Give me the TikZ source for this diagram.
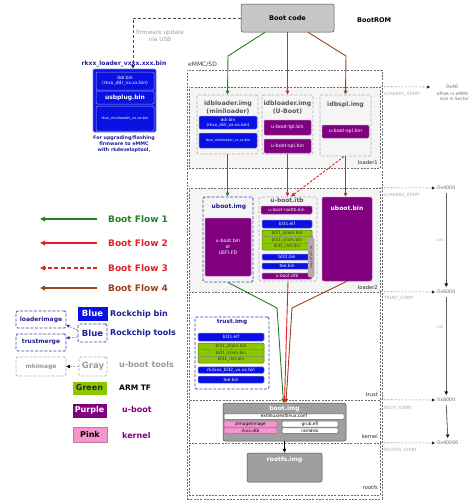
\documentclass[tikz,border=0pt]{standalone}
\usepackage{fontspec}
\setmainfont{DejaVu Sans}
\usetikzlibrary{arrows.meta}
\definecolor{fgreen}{RGB}{34,128,34}
\definecolor{fred}{RGB}{226,32,40}
\definecolor{fbrown}{RGB}{160,64,28}
\definecolor{rkblue}{RGB}{8,16,226}
\definecolor{navy}{RGB}{30,30,150}
\definecolor{upurple}{RGB}{128,0,128}
\definecolor{armgreen}{RGB}{140,200,0}
\definecolor{kpink}{RGB}{245,150,205}
\definecolor{regfill}{RGB}{245,245,245}
\definecolor{atfbox}{RGB}{190,165,175}
\newcommand\fsz[2]{\fontsize{#1}{#2}\selectfont}
\begin{document}
\begin{tikzpicture}[x=1pt,y=-1pt,
  wh/.style 2 args={minimum width=#1pt, minimum height=#2pt},
  box/.style={draw, rounded corners=1.2pt, inner sep=0pt, align=center, line width=0.5pt},
  bluebox/.style={box, fill=rkblue, draw=rkblue!55!white, text=white},
  purplebox/.style={box, fill=upurple, draw=upurple!60!white, text=white},
  greenbox/.style={box, fill=armgreen, draw=armgreen!60!black, text=black!80},
  pinkbox/.style={box, fill=kpink, draw=upurple!60, text=black},
  whitebox/.style={box, fill=white, draw=black!60, text=black},
  graybox/.style={box, fill=gray!75, draw=black!70, rounded corners=2pt},
  dashbox/.style={draw, dash pattern=on 3pt off 1.6pt, rounded corners=1.5pt, line width=0.9pt, inner sep=0pt, align=center},
  region/.style={draw=gray!85!black, dash pattern=on 2pt off 1.3pt, line width=0.6pt, inner sep=0pt},
  tiny/.style={font=\fsz{4.3}{5}},
  flow/.style={line width=0.9pt, -{Triangle[length=4pt,width=3.6pt]}},
  f1/.style={flow, draw=fgreen},
  f2/.style={flow, draw=fred},
  f3/.style={flow, draw=fred, dash pattern=on 2.5pt off 1.5pt},
  f4/.style={flow, draw=fbrown},
  addr/.style={draw=gray!75, dash pattern=on 2pt off 1.5pt, line width=0.6pt, -{Triangle[length=3pt,width=3pt,color=black!85]}},
  addrv/.style={draw=gray!75!black, line width=0.8pt, -{Triangle[length=3.5pt,width=3.5pt,color=black!90]}},
  addrt/.style={text=gray!85!black, font=\fsz{4.8}{5.5}, inner sep=0pt, anchor=west},
  addrl/.style={text=gray!70, font=\fsz{4.3}{5}, inner sep=0pt, anchor=west},
  legarrow/.style={line width=1.3pt, -{Triangle[length=5pt,width=4.6pt]}},
  legtxt/.style={font=\bfseries\fsz{9}{10}, inner sep=0pt, anchor=west},
  regl/.style={font=\fsz{5.2}{6}, text=black!85, inner sep=0pt, anchor=east}
]
\useasboundingbox (0,0) rectangle (474,504);

% ---------- Boot ROM ----------
\node[box, fill=gray!45, draw=gray!60!black, rounded corners=2pt, wh={93}{28}, font=\bfseries\fsz{6.5}{7.5}] (boot) at (287.5,18) {Boot code};
\node[font=\bfseries\fsz{6.5}{7.5}, inner sep=0pt, anchor=west] (bootrom) at (357,20) {BootROM};

% ---------- rkxx loader (USB) ----------
\node[font=\bfseries\fsz{6}{7}, text=navy, inner sep=0pt] (ldrt) at (124,64) {rkxx\_loader\_vxxx.xxx.bin};
\node[box, fill=rkblue, draw=rkblue!50!white, line width=0.8pt, wh={63}{63}] (ldr) at (124.5,100.5) {};
\node[bluebox, draw=white!60!rkblue, wh={58}{18}, font=\fsz{4.5}{5.4}] (lddr) at (125,81) {ddr.bin\\(rkxx\_ddr\_vx.xx.bin)};
\node[bluebox, draw=white!60!rkblue, wh={58}{13}, font=\bfseries\fsz{6}{7}] (lusb) at (125,97.5) {usbplug.bin};
\node[bluebox, draw=white!60!rkblue, wh={58}{25}, font=\fsz{3.6}{4.2}] (lmini) at (125,118.5) {rkxx\_miniloader\_vx.xx.bin};
\node[font=\bfseries\fsz{4.8}{6}, text=navy, align=center, inner sep=0pt] (ldrnote) at (124,144) {For upgrading/flashing\\firmware to eMMC\\with rkdeveloptool,};
\node[font=\fsz{5.8}{6.6}, text=gray!75, align=center, inner sep=0pt] (fwt) at (160,36) {firmware update\\via USB};
\coordinate (fwc) at (133,18);
\draw[draw=gray!60!black, dash pattern=on 3pt off 2pt, line width=1pt, -{Triangle[length=3.5pt,width=3.5pt,color=black!80]}] (boot.west) -- (fwc) -- (fwc |- ldr.north);

% ---------- eMMC regions ----------
\node[region, fill=white, wh={195}{429}] (emmc) at (284.5,284.5) {};
\node[font=\fsz{6}{7}, text=black!75, inner sep=0pt, anchor=west] (emmct) at (188,65) {eMMC/SD};
\node[region, fill=regfill, wh={191}{81}] (l1) at (284.5,127.5) {};
\node[region, fill=regfill, wh={191}{104}] (l2) at (284.5,240) {};
\node[region, fill=white, wh={191}{108}] (tr) at (284.5,346) {};
\node[region, fill=white, wh={191}{43}] (kn) at (284.5,421.5) {};
\node[region, fill=white, wh={191}{52}] (rf) at (284.5,469) {};
\node[regl] (l1t) at (378,163) {loader1};
\node[regl] (l2t) at (378,288) {loader2};
\node[regl] (trt) at (378,395) {trust};
\node[regl] (knt) at (378,437) {kernel};
\node[regl] (rft) at (378,488) {rootfs};

% ---------- right side offsets ----------
\node[addrt] (h40) at (446,87) {0x40};
\node[addrt] (h4000) at (437,188) {0x4000};
\node[addrt] (h6000) at (437,292) {0x6000};
\node[addrt] (h8000) at (437,400) {0x8000};
\node[addrt] (h40000) at (437,443) {0x40000};
\coordinate (e40) at (430,87);
\draw[addr] (l1.north east) -- (e40);
\draw[addr] (l2.north east) -- ([xshift=-2pt]h4000.west);
\draw[addr] (tr.north east) -- ([xshift=-2pt]h6000.west);
\draw[addr] (kn.north east) -- ([xshift=-2pt]h8000.west);
\draw[addr] (rf.north east) -- ([xshift=-2pt]h40000.west);
\node[addrl] (s1) at (384,94.5) {LOADER1\_START};
\node[addrl] (s2) at (384,195) {LOADER2\_START};
\node[addrl] (s3) at (384,298) {TRUST\_START};
\node[addrl] (s4) at (384,408) {BOOT\_START};
\node[addrl] (s5) at (384,450) {ROOTFS\_START};
\node[text=gray!85!black, font=\fsz{4.3}{5.2}, align=right, inner sep=0pt, anchor=north east] (offs) at (469,92) {offset in eMMC\\size in Sector};
\draw[addrv] ([yshift=-3pt]h4000.south) -- ([yshift=3pt]h6000.north);
\draw[addrv] ([yshift=-3pt]h6000.south) -- ([yshift=3pt]h8000.north);
\draw[addrv] ([yshift=-3pt]h8000.south) -- ([yshift=3pt]h40000.north);
\node[text=gray!60, font=\fsz{3.2}{4}, inner sep=0pt] (mb1) at (440,240) {4MB};
\node[text=gray!60, font=\fsz{3.2}{4}, inner sep=0pt] (mb2) at (440,327) {4MB};

% ---------- loader1 ----------
\node[dashbox, draw=gray!60, wh={61}{59}] (idb1) at (227.5,124.5) {};
\node[font=\bfseries\fsz{6.2}{8}, text=gray!70!black, align=center, inner sep=0pt] (idb1t) at (228,107.5) {idbloader.img\\(miniloader)};
\node[bluebox, wh={58}{13}, font=\fsz{4.2}{4.9}] (iddr) at (228,122.5) {ddr.bin\\(rkxx\_ddr\_vx.xx.bin)};
\node[bluebox, wh={58}{15}, font=\fsz{3.4}{4}] (imini) at (228,140.5) {rkxx\_miniloader\_vx.xx.bin};

\node[dashbox, draw=gray!60, wh={51}{59}] (idb2) at (287.5,124.5) {};
\node[font=\bfseries\fsz{6.2}{8}, text=gray!70!black, align=center, inner sep=0pt] (idb2t) at (287.5,107.5) {idbloader.img\\(U-Boot)};
\node[purplebox, wh={47}{15}, font=\fsz{4.8}{5.5}] (tpl) at (287.5,127.5) {u-boot-tpl.bin};
\node[purplebox, wh={47}{14}, font=\fsz{4.8}{5.5}] (spl) at (287.5,146) {u-boot-spl.bin};

\node[dashbox, draw=gray!60, wh={51}{61}] (idbspl) at (345.5,125.5) {};
\node[font=\bfseries\fsz{6.2}{8}, text=gray!70!black, inner sep=0pt] (idbsplt) at (345.5,105) {idbspl.img};
\node[purplebox, wh={47}{13}, font=\fsz{4.8}{5.5}] (spl2) at (345.5,131.5) {u-boot-spl.bin};

% ---------- loader2 ----------
\node[dashbox, draw=navy!85, wh={50}{85}] (uimg) at (228,239.5) {};
\node[font=\bfseries\fsz{6}{7}, text=navy, inner sep=0pt] (uimgt) at (229,207) {uboot.img};
\node[purplebox, wh={46}{58}, font=\fsz{4.8}{5.8}] (ubinor) at (228,247) {u-boot.bin\\or\\UEFI.FD};

\node[dashbox, draw=gray!60, wh={58}{84}] (itb) at (288,239) {};
\node[font=\bfseries\fsz{5.9}{7}, text=gray!70!black, inner sep=0pt, fill=regfill, inner xsep=1pt] (itbt) at (287,200.5) {u-boot.itb};
\node[purplebox, wh={51}{8}, font=\fsz{4.3}{5}] (nodtb) at (286.5,210) {u-boot-nodtb.bin};
\node[bluebox, wh={50}{8}, font=\fsz{4.3}{5}] (ibl31) at (287,224) {bl31.elf};
\node[greenbox, wh={50}{20}] (igr) at (287,240) {};
\draw[black!50, dash pattern=on 1.5pt off 1pt, line width=0.4pt] ([yshift=-6.67pt]igr.north west) -- ([yshift=-6.67pt]igr.north east);
\draw[black!50, dash pattern=on 1.5pt off 1pt, line width=0.4pt] ([yshift=6.67pt]igr.south west) -- ([yshift=6.67pt]igr.south east);
\node[tiny, text=black!80, inner sep=0pt] (igr1) at (287,233.5) {bl31\_dram.bin};
\node[tiny, text=black!80, inner sep=0pt] (igr2) at (287,240) {bl31\_sram.bin};
\node[tiny, text=black!80, inner sep=0pt] (igr3) at (287,246.5) {bl31\_m0.bin};
\node[bluebox, wh={50}{6}, font=\fsz{4.3}{5}] (ibl32) at (287,257) {bl32.bin};
\node[bluebox, wh={50}{6}, font=\fsz{4.3}{5}] (itee) at (287,266) {tee.bin};
\node[purplebox, wh={50}{6}, font=\fsz{4.3}{5}] (idtb) at (287,276) {u-boot.dtb};
\node[box, fill=atfbox, draw=gray!70, wh={6}{39}] (atf) at (311,257.5) {};
\node[rotate=-90, font=\fsz{3.4}{4}, text=black!75, inner sep=0pt] (atft) at (311,257.5) {bl\_spl\_atf.bin};

\node[purplebox, rounded corners=2pt, wh={50}{84}] (ubin) at (347,239) {};
\node[font=\bfseries\fsz{6}{7}, text=white, inner sep=0pt] (ubint) at (347,208) {uboot.bin};

% ---------- trust ----------
\node[dashbox, draw=navy!85, wh={74}{72}] (timg) at (232,353) {};
\node[font=\bfseries\fsz{5.8}{7}, text=navy, inner sep=0pt] (timgt) at (232,322) {trust.img};
\node[bluebox, wh={66}{8}, font=\fsz{4.3}{5}] (tbl31) at (231,337) {bl31.elf};
\node[greenbox, wh={66}{20}] (tgr) at (231,353) {};
\draw[black!50, dash pattern=on 1.5pt off 1pt, line width=0.4pt] ([yshift=-6.67pt]tgr.north west) -- ([yshift=-6.67pt]tgr.north east);
\draw[black!50, dash pattern=on 1.5pt off 1pt, line width=0.4pt] ([yshift=6.67pt]tgr.south west) -- ([yshift=6.67pt]tgr.south east);
\node[tiny, text=black!80, inner sep=0pt] (tgr1) at (231,346.5) {bl31\_dram.bin};
\node[tiny, text=black!80, inner sep=0pt] (tgr2) at (231,353) {bl31\_sram.bin};
\node[tiny, text=black!80, inner sep=0pt] (tgr3) at (231,359.5) {bl31\_m0.bin};
\node[bluebox, wh={66}{6.5}, font=\fsz{4.3}{5}] (tbl32) at (231,370) {rk3xxx\_bl32\_vx.xx.bin};
\node[bluebox, wh={66}{7}, font=\fsz{4.3}{5}] (ttee) at (231,379.5) {tee.bin};

% ---------- kernel ----------
\node[graybox, wh={123}{38}] (bimg) at (284.5,422) {};
\node[font=\bfseries\fsz{6}{7}, text=white, inner sep=0pt] (bimgt) at (284.5,409) {boot.img};
\node[whitebox, rounded corners=1pt, wh={120}{5.5}, font=\fsz{4.3}{5}] (ext) at (284,416.5) {extlinux/extlinux.conf};
\node[pinkbox, rounded corners=1pt, wh={53}{6}, font=\fsz{4.3}{5}] (zimg) at (250.5,424) {zImage/Image};
\node[pinkbox, rounded corners=1pt, wh={53}{5.5}, font=\fsz{4.3}{5}] (dtb) at (250.5,430.5) {rkxx.dtb};
\node[whitebox, rounded corners=1pt, wh={56}{6}, font=\fsz{4.3}{5}] (grub) at (310,424) {grub.efi};
\node[whitebox, rounded corners=1pt, wh={56}{5.5}, font=\fsz{4.3}{5}] (rdisk) at (310,430.5) {ramdisk};

\node[graybox, wh={75}{29}] (rimg) at (284.5,467.5) {};
\node[font=\bfseries\fsz{6}{7}, text=white, inner sep=0pt] (rimgt) at (284.5,460) {rootfs.img};
\draw[line width=0.9pt, -{Triangle[length=4pt,width=3.6pt]}] (bimg.south) -- (rimg.north);

% ---------- boot flows ----------
\coordinate (g1) at (228,56);
\coordinate (b1) at (346,56);
\draw[f1] ([xshift=-22.5pt]boot.south) -- (g1) -- (idb1.north);
\draw[f2] (boot.south) -- (idb2.north);
\draw[f4] ([xshift=20.5pt]boot.south) -- (b1) -- (idbspl.north);

\draw[f1] (idb1.south) -- (idb1.south |- uimg.north);
\draw[f2] (idb2.south) -- (idb2.south |- itb.north);
\draw[f3] ([xshift=-1.5pt]idbspl.south) -- ([xshift=3pt]itb.north);
\draw[f4] (idbspl.south) -- (idbspl.south |- ubin.north);

\coordinate (g2) at (277,308);
\coordinate (b2) at (292,308);
\draw[f1] (uimg.south) -- (g2) -- ([xshift=-1pt]bimg.north);
\draw[f4] (ubin.south) -- (b2) -- ([xshift=1.5pt]bimg.north);
\draw[f2] (itb.south) -- (bimg.north);

% ---------- legend ----------
\node[legtxt, text=fgreen] (bf1) at (108,219) {Boot Flow 1};
\node[legtxt, text=fred] (bf2) at (108,243) {Boot Flow 2};
\node[legtxt, text=fred] (bf3) at (108,268) {Boot Flow 3};
\node[legtxt, text=fbrown] (bf4) at (108,288) {Boot Flow 4};
\coordinate (a1) at (40,219);
\coordinate (a2) at (40,243);
\coordinate (a3) at (40,268);
\coordinate (a4) at (40,288);
\draw[legarrow, draw=fgreen] ([xshift=-11pt]bf1.west) -- (a1);
\draw[legarrow, draw=fred] ([xshift=-11pt]bf2.west) -- (a2);
\draw[legarrow, draw=fred, dash pattern=on 4pt off 2.5pt] ([xshift=-11pt]bf3.west) -- (a3);
\draw[legarrow, draw=fbrown] ([xshift=-11pt]bf4.west) -- (a4);

\node[box, rounded corners=0pt, fill=rkblue, draw=rkblue, text=white, wh={29}{13}, font=\bfseries\fsz{8.5}{9}] (lgblue) at (92.5,313.5) {Blue};
\node[font=\bfseries\fsz{8}{9}, text=navy, inner sep=0pt, anchor=west] (lgbluet) at (110,314) {Rockchip bin};
\node[dashbox, draw=navy!85, text=navy, wh={29}{18}, font=\bfseries\fsz{8.5}{9}] (lgtool) at (92.5,333) {Blue};
\node[font=\bfseries\fsz{8}{9}, text=navy, inner sep=0pt, anchor=west] (lgtoolt) at (110,333) {Rockchip tools};
\node[dashbox, draw=navy!85, text=navy, wh={50}{17}, font=\bfseries\fsz{6}{7}] (ldimg) at (41,319.5) {loaderimage};
\node[dashbox, draw=navy!85, text=navy, wh={50}{17}, font=\bfseries\fsz{6}{7}] (trm) at (41,342.5) {trustmerge};
\node[dashbox, draw=gray!60, text=gray!80, wh={50}{19}, font=\bfseries\fsz{6}{7}] (mkimg) at (41,366.5) {mkimage};
\node[dashbox, draw=gray!60, text=gray!80, wh={28}{19}, font=\bfseries\fsz{8.5}{9}] (lggray) at (93,366.5) {Gray};
\node[font=\bfseries\fsz{8}{9}, text=gray!80, inner sep=0pt, anchor=west] (lggrayt) at (119,365) {u-boot tools};
\draw[draw=navy!70, dash pattern=on 2pt off 1.2pt, line width=0.6pt, -{Triangle[length=3pt,width=3pt,color=navy]}] ([yshift=3pt]lgtool.west) -- ([yshift=-5.5pt]ldimg.east);
\draw[draw=navy!70, dash pattern=on 2pt off 1.2pt, line width=0.6pt, -{Triangle[length=3pt,width=3pt,color=navy]}] ([yshift=-4pt]lgtool.west) -- ([yshift=4.5pt]trm.east);
\draw[draw=gray!60, dash pattern=on 2pt off 1.2pt, line width=0.6pt, -{Triangle[length=3.5pt,width=3.5pt,color=black]}] (lggray.west) -- (mkimg.east);

\node[box, rounded corners=0pt, fill=armgreen, draw=armgreen, text=black!85, wh={33}{12}, font=\bfseries\fsz{8}{9}] (lggreen) at (89.5,388) {Green};
\node[font=\bfseries\fsz{7.5}{8}, text=black, inner sep=0pt, anchor=west] (lggreent) at (119,388) {ARM TF};
\node[box, rounded corners=0pt, fill=upurple, draw=upurple, text=white, wh={33}{13}, font=\bfseries\fsz{8}{9}] (lgpurple) at (89.5,410.5) {Purple};
\node[font=\bfseries\fsz{8}{9}, text=upurple, inner sep=0pt, anchor=west] (lgpurplet) at (122,410) {u-boot};
\node[box, rounded corners=0pt, fill=kpink, draw=kpink!80!black, text=black, wh={34}{15}, font=\bfseries\fsz{8}{9}] (lgpink) at (90,434.5) {Pink};
\node[font=\bfseries\fsz{8}{9}, text=upurple, inner sep=0pt, anchor=west] (lgpinkt) at (122,436) {kernel};
\end{tikzpicture}
\end{document}
